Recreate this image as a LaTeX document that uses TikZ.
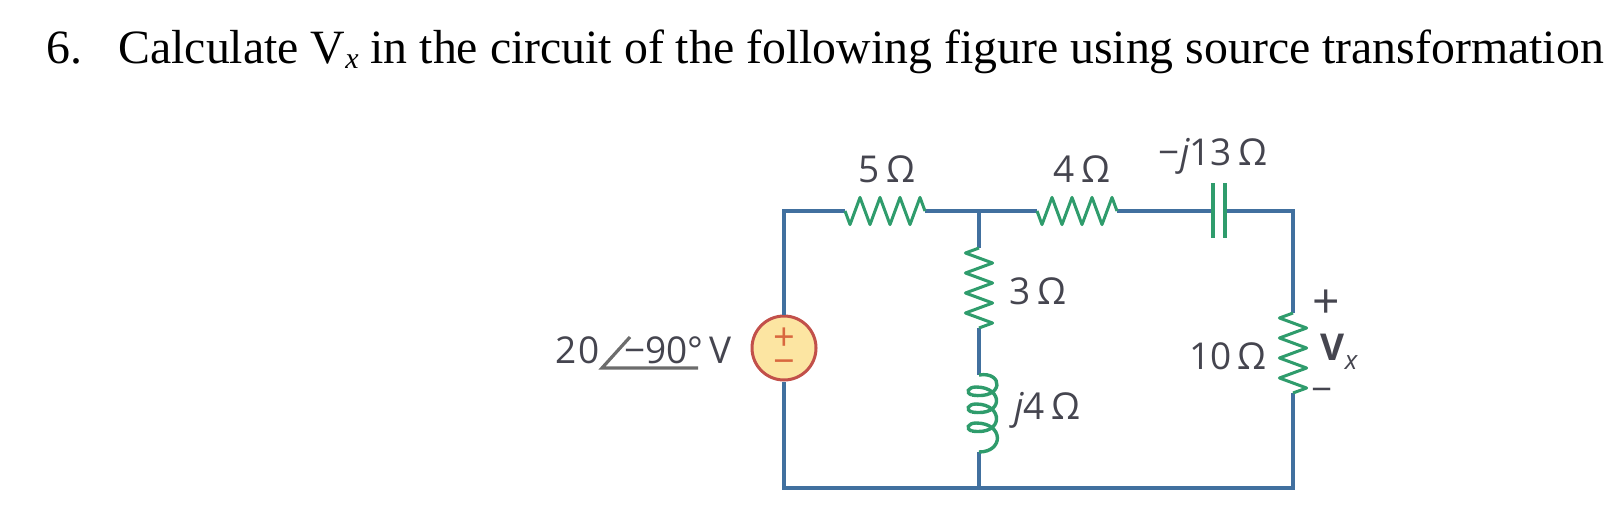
\documentclass[tikz,border=0pt]{standalone}
\usepackage{fontspec}
\setmainfont{Liberation Serif}
\newfontfamily\lab{Open Sans}
\usetikzlibrary{decorations.pathmorphing,calc}
\definecolor{wire}{HTML}{41709F}
\definecolor{comp}{HTML}{2F9C6C}
\definecolor{ink}{HTML}{45454F}
\definecolor{srcfill}{HTML}{FCE5A2}
\definecolor{srcline}{HTML}{C2504A}
\definecolor{srcmark}{HTML}{D9683F}
\tikzset{
  wireline/.style={draw=wire,line width=1.8pt,line join=miter},
  resistor/.style={draw=comp,line width=1.5pt,line join=round,decorate,decoration={zigzag,segment length=10pt,amplitude=6.8pt,mirror}},
  capplate/.style={draw=comp,line width=2pt},
  inductor/.style={draw=comp,line width=1.7pt},
  lbl/.style={text=ink,font=\lab\fontsize{18.5}{20}\selectfont,inner sep=0pt},
  title/.style={text=black,font=\fontsize{23.9}{27}\selectfont,inner sep=0pt,anchor=base west},
  srcnode/.style={circle,draw=srcline,fill=srcfill,line width=1.5pt,minimum size=32pt,inner sep=0pt},
  srcsigns/.style={inner sep=0pt,text=srcmark,align=center,font=\lab\fontsize{19}{12}\selectfont},
  anglemark/.style={draw=gray!85!black,line width=1.6pt}
}
\begin{document}
\begin{tikzpicture}[x=0.5pt,y=-0.5pt]
\useasboundingbox (0,0) rectangle (1605,520);
% title
\node[title] (num) at (46,63) {6.};
\node[title] (ttl) at (118,63) {Calculate V\raisebox{-0.12em}{\fontsize{15}{16}\selectfont\itshape x} in the circuit of the following figure using source transformation};
% junctions
\coordinate (tl) at (784,211);
\coordinate (tm) at (979,211);
\coordinate (tr) at (1293,211);
\coordinate (bl) at (784,488);
\coordinate (bm) at (979,488);
\coordinate (br) at (1293,488);
\coordinate (r5a) at (845,211); \coordinate (r5b) at (925,211);
\coordinate (r4a) at (1037,211); \coordinate (r4b) at (1117,211);
\coordinate (capa) at (1213,211); \coordinate (capb) at (1225,211);
\coordinate (capat) at (1213,183); \coordinate (capab) at (1213,238);
\coordinate (capbt) at (1225,183); \coordinate (capbb) at (1225,238);
\coordinate (r3a) at (979,248); \coordinate (r3b) at (979,328);
\coordinate (la) at (979,375); \coordinate (lb) at (979,452);
\coordinate (r10a) at (1293,313); \coordinate (r10b) at (1293,393);
% source
\node[srcnode] (src) at (784,348) {};
\node[srcsigns] (signs) at (784,351) {+\\−};
% wires
\draw[wireline] (src.north) -- (tl) -- (r5a);
\draw[wireline] (r5b) -- (tm) -- (r4a);
\draw[wireline] (r4b) -- (capa);
\draw[wireline] (capb) -- (tr) -- (r10a);
\draw[wireline] (r10b) -- (br) -- (bl) -- (src.south);
\draw[wireline] (tm) -- (r3a);
\draw[wireline] (r3b) -- (la);
\draw[wireline] (lb) -- (bm);
% components
\draw[resistor] (r5a) -- (r5b);
\draw[resistor] (r4a) -- (r4b);
\draw[resistor] (r3a) -- (r3b);
\draw[resistor] (r10a) -- (r10b);
\draw[capplate] (capat) -- (capab);
\draw[capplate] (capbt) -- (capbb);
\draw[inductor] (la) .. controls (1004,371) and (1004,400) .. (972,395);
\draw[inductor] (972,395) .. controls (965,393) and (968,387) .. (976,387);
\draw[inductor] (976,387) .. controls (1004,387) and (1004,417) .. (972,412);
\draw[inductor] (972,412) .. controls (965,410) and (968,404) .. (976,404);
\draw[inductor] (976,404) .. controls (1004,404) and (1004,436) .. (972,431);
\draw[inductor] (972,431) .. controls (965,429) and (968,423) .. (976,423);
\draw[inductor] (976,423) .. controls (1004,423) and (1004,452) .. (lb);
% labels
\node[lbl] (l5) at (887,169) {5\,Ω};
\node[lbl] (l4) at (1082,169) {4\,Ω};
\node[lbl] (l13) at (1213,156) {−\textit{j}13\,Ω};
\node[lbl] (l3) at (1038,291) {3\,Ω};
\node[lbl] (lj4) at (1047,410) {\textit{j}4\,Ω};
\node[lbl] (l10) at (1228,356) {10\,Ω};
\node[lbl,font=\lab\fontsize{24}{24}\selectfont] (vp) at (1326,304) {+};
\node[lbl] (vx) at (1339,352) {\textbf{V}\raisebox{-0.25em}{\fontsize{13}{14}\selectfont\itshape x}};
\node[lbl] (vm) at (1322,395) {−};
% source label
\node[lbl,anchor=base west] (s20) at (555,363) {2\kern1pt 0};
\node[lbl,anchor=base west] (s90) at (624,363) {−90°\,V};
\coordinate (angt) at (630,337);
\coordinate (ango) at (602,368);
\coordinate (ange) at (698,368);
\draw[anglemark] (angt) -- (ango) -- (ange);
\end{tikzpicture}
\end{document}
